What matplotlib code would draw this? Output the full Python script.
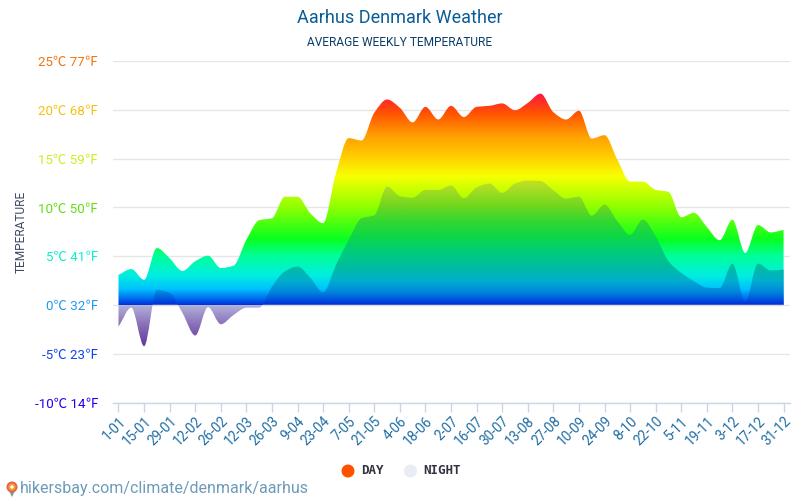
import numpy as np
import matplotlib
matplotlib.use("Agg")
import matplotlib.pyplot as plt
from matplotlib.path import Path
from matplotlib.patches import PathPatch, Circle, Polygon
from matplotlib.colors import LinearSegmentedColormap

plt.rcParams['font.family'] = ['Roboto', 'Noto Sans CJK SC', 'DejaVu Sans']

tick_labels = ["1-01","15-01","29-01","12-02","26-02","12-03","26-03","9-04","23-04","7-05","21-05",
               "4-06","18-06","2-07","16-07","30-07","13-08","27-08","10-09","24-09","8-10","22-10",
               "5-11","19-11","3-12","17-12","31-12"]
day = [3.1,3.7,2.6,5.85,4.8,3.5,4.5,5.07,3.8,4.05,6.7,8.7,8.9,11.1,11.1,9.4,8.4,13.5,17.1,16.85,19.7,21.05,
       20.2,18.7,20.3,19.0,20.4,19.25,20.3,20.4,20.65,19.95,20.7,21.65,19.75,19.0,19.9,17.05,17.4,14.9,12.65,
       12.65,11.8,11.6,9.0,9.45,8.0,6.65,8.75,5.35,8.2,7.45,7.7]
night = [-2.2,-0.25,-4.2,1.55,1.25,-0.8,-3.1,-0.2,-1.95,-1.0,-0.25,-0.25,1.9,3.45,3.95,2.8,1.3,4.1,6.7,8.9,9.2,12.15,
         11.15,11.0,11.8,11.8,12.25,10.95,12.05,12.45,11.5,12.45,12.75,12.7,11.75,10.9,11.1,9.15,10.3,8.6,7.2,
         8.75,7.05,4.5,3.3,2.45,1.8,1.75,4.25,0.35,4.25,3.55,3.65]
y_ticks = [25,20,15,10,5,0,-5,-10]
y_labels = ["25℃ 77℉","20℃ 68℉","15℃ 59℉","10℃ 50℉","5℃ 41℉","0℃ 32℉","-5℃ 23℉","-10℃ 14℉"]
y_colors = ["#ee7711","#f5c211","#cdee22","#66dd11","#11eecc","#2299ee","#1144ee","#2200ee"]

W, H = 800, 500
fig = plt.figure(figsize=(8, 5), dpi=100)
L, R, T, B = 113, 790, 60.9, 402.9
ax = fig.add_axes([L/W, 1-B/H, (R-L)/W, (B-T)/H])
step = 12.79
x = np.arange(len(day), dtype=float)

def smooth_path(xs, ys):
    ys = np.asarray(ys, float)
    d = np.diff(ys)
    m = np.zeros_like(ys)
    for i in range(1, len(ys)-1):
        if d[i-1]*d[i] > 0:
            m[i] = 2*d[i-1]*d[i]/(d[i-1]+d[i])
    m[0], m[-1] = d[0], d[-1]
    verts = [(xs[0], 0), (xs[0], ys[0])]
    codes = [Path.MOVETO, Path.LINETO]
    for i in range(len(ys)-1):
        verts += [(xs[i]+1/3, ys[i]+m[i]/3), (xs[i+1]-1/3, ys[i+1]-m[i+1]/3), (xs[i+1], ys[i+1])]
        codes += [Path.CURVE4]*3
    verts += [(xs[-1], 0), (xs[0], 0)]
    codes += [Path.LINETO, Path.CLOSEPOLY]
    return Path(verts, codes)

def ramp(stops):
    lo, hi = stops[0][0], stops[-1][0]
    return LinearSegmentedColormap.from_list("r", [((v-lo)/(hi-lo), c) for v, c in stops], N=720), lo, hi

def gradient(ax, stops, curve):
    cmap, lo, hi = ramp(stops)
    img = cmap(np.linspace(1, 0, 720))[:, None, :]
    im = ax.imshow(img, extent=(x[0], x[-1], lo, hi), aspect='auto', zorder=2, interpolation='bilinear')
    im.set_clip_path(PathPatch(smooth_path(x, curve), transform=ax.transData))

day_stops = [(0,"#0030dd"),(0.7,"#0070ee"),(1.6,"#00c0ff"),(3,"#00eee0"),(5,"#00ff99"),(6.7,"#08ff20"),
             (10,"#90ff00"),(13.2,"#f8ff00"),(15,"#ffd000"),(17.2,"#ffa000"),(19.5,"#ff5500"),(21.7,"#ff1040")]
night_stops = [(-4.2,"#603aa0"),(-2,"#8a70b8"),(-0.01,"#b2b2da"),(0,"#002ddc"),(0.5,"#0050dc"),(1.3,"#0087dc"),
               (2.5,"#00afcd"),(4,"#00be9b"),(5.5,"#00cd78"),(7,"#0fd746"),(8.5,"#32d732"),(10,"#6ed71e"),
               (12,"#afde23"),(13,"#cde11e")]
gradient(ax, day_stops, day)
gradient(ax, night_stops, night)
ax.set_xlim(-(118.5-L)/step, (R-118.5)/step)
ax.set_ylim(-10, 25)

for s in ['top', 'right', 'left']:
    ax.spines[s].set_visible(False)
ax.spines['bottom'].set_color("#cbd5ea")
ax.spines['bottom'].set_linewidth(1)
ax.set_axisbelow(True)
ax.yaxis.grid(True, color="#e6e6e6", linewidth=1)
ax.set_yticks(y_ticks)
ax.set_yticklabels(y_labels, fontsize=9.6)
for lab, c in zip(ax.get_yticklabels(), y_colors):
    lab.set_color(c)
ax.tick_params(axis='y', length=0, pad=10.5)
ax.set_xticks(x[::2])
ax.set_xticklabels(tick_labels, rotation=45, ha='right', rotation_mode='anchor', fontsize=9.8, color="#1f6da3")
ax.tick_params(axis='x', length=6.2, width=1, color="#cbd5ea", pad=2)

fig.text(400/W, 1-18/H, "Aarhus Denmark Weather", ha='center', va='center', fontsize=13, color="#0a5c96")
fig.text(400/W, 1-42/H, "AVERAGE WEEKLY TEMPERATURE", ha='center', va='center', fontsize=8.6, color="#0a3d6b")
fig.text(21/W, 1-232/H, "TEMPERATURE", rotation=90, ha='center', va='center', fontsize=8.6, color="#3d4a66")

# legend
fig.add_artist(Circle((348, H-471), 6.5, transform=None, facecolor="#ff5000", edgecolor='none'))
fig.add_artist(Circle((410.5, H-471), 6.5, transform=None, facecolor="#e8edf3", edgecolor='none'))
fig.text(361/W, 1-471/H, "DAY", family="DejaVu Sans Mono", weight='bold', fontsize=9, va='center', color="#333340")
fig.text(423/W, 1-471/H, "NIGHT", family="DejaVu Sans Mono", weight='bold', fontsize=9, va='center', color="#333340")

# footer
fig.add_artist(Polygon([(7.5, H-488), (16.5, H-488), (12, H-497)], transform=None, facecolor="#6fa3a0", edgecolor='none'))
fig.add_artist(Circle((12, H-487), 4.6, transform=None, facecolor="#f0a030", edgecolor="#e8604a", linewidth=1.3))
fig.add_artist(Circle((12, H-487), 1.7, transform=None, facecolor="white", edgecolor='none'))
fig.text(20/W, 1-489/H, "hikersbay.com/climate/denmark/aarhus", fontsize=11.55, va='center', color="#6c9bb9")

fig.savefig("out.png", dpi=100)
